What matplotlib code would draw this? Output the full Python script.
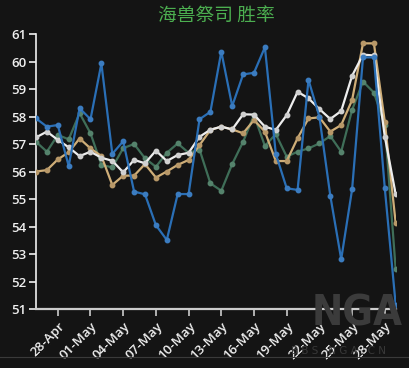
import matplotlib
matplotlib.use("Agg")
import matplotlib.pyplot as plt

dates = ["26-Apr", "27-Apr", "28-Apr", "29-Apr", "30-Apr"] + ["%02d-May" % d for d in range(1, 30)]
tick_labels = ["28-Apr", "01-May", "04-May", "07-May", "10-May", "13-May",
               "16-May", "19-May", "22-May", "25-May", "28-May"]

blue = [57.93, 57.63, 57.69, 56.2, 58.3, 57.9, 59.93, 56.64, 57.1, 55.27,
        55.17, 54.05, 53.51, 55.18, 55.18, 57.9, 58.17, 60.36, 58.38, 59.53,
        59.59, 60.52, 56.64, 55.39, 55.33, 59.33, 57.99, 55.12, 52.81, 55.35,
        60.15, 60.15, 55.39, 51.15]
white = [57.24, 57.45, 57.15, 56.88, 56.56, 56.72, 56.5, 56.39, 55.97, 56.42,
         56.3, 56.76, 56.38, 56.6, 56.68, 57.26, 57.52, 57.63, 57.53, 58.08,
         58.07, 57.63, 57.51, 58.05, 58.9, 58.66, 58.27, 57.91, 58.2, 59.48,
         60.25, 60.22, 57.27, 55.17]
tan = [56.0, 56.05, 56.44, 56.7, 57.2, 56.84, 56.56, 55.51, 55.85, 55.85,
       56.27, 55.78, 56.0, 56.24, 56.42, 56.96, 57.51, 57.63, 57.53, 57.39,
       57.87, 57.45, 56.38, 56.38, 57.21, 57.93, 57.97, 57.45, 57.69, 58.6,
       60.66, 60.66, 57.81, 54.12]
green = [57.08, 56.72, 57.33, 57.17, 58.12, 57.39, 56.24, 56.15, 56.85, 57.0,
         56.48, 56.17, 56.68, 57.02, 56.68, 56.8, 55.57, 55.3, 56.27, 57.08,
         58.05, 56.93, 57.36, 56.54, 56.72, 56.84, 57.02, 57.29, 56.72, 58.24,
         59.27, 58.87, 57.7, 52.44]

series = [
    (green, "#3f6e58", "#55836c"),
    (tan, "#cfae78", "#b89868"),
    (white, "#eeeeee", "#d0d0d0"),
    (blue, "#2a6fb6", "#3b7cc0"),
]

bg = "#141414"
fig = plt.figure(figsize=(4.10, 3.68), dpi=100, facecolor=bg)

# watermark (behind the axes)
fig.text(357 / 410, 1 - 313 / 368, "NGA", color="#3b3b3b", fontsize=30,
         fontweight="bold", fontstretch="condensed", ha="center", va="center",
         zorder=0, family="DejaVu Sans")
fig.text(339 / 410, 1 - 351 / 368, "B B S . N G A . C N", color="#383838", fontsize=7.5,
         ha="center", va="center", zorder=0)
fig.add_artist(plt.Line2D([0, 1], [1 - 357 / 368, 1 - 357 / 368],
                          color="#3a3a3a", lw=0.8, transform=fig.transFigure))

ax = fig.add_axes([36 / 410, 1 - 309 / 368, (395.7 - 36) / 410, (309 - 34) / 368])
ax.set_facecolor("none")

x = list(range(len(dates)))
for vals, lc, mc in series:
    ax.plot(x, vals, color=lc, lw=1.6, marker="o", ms=3.2,
            mfc=mc, mec=mc, solid_joinstyle="round", zorder=3)

ax.set_xlim(0, len(dates) - 1)
ax.set_ylim(51, 61)
ax.set_yticks(range(51, 62))
tick_pos = [dates.index(t) for t in tick_labels]
ax.set_xticks(tick_pos)
ax.set_xticklabels(tick_labels, rotation=45, ha="right", rotation_mode="anchor")

for s in ["top", "right"]:
    ax.spines[s].set_visible(False)
ax.spines["left"].set_color("#f0f0f0")
ax.spines["bottom"].set_color("#cccccc")
ax.spines["left"].set_linewidth(1.2)
ax.spines["bottom"].set_linewidth(1.6)
ax.tick_params(axis="y", colors="#f0f0f0", labelsize=9.5, length=5, width=1.2, pad=2)
ax.tick_params(axis="x", colors="#cccccc", labelcolor="#f0f0f0", labelsize=9.5,
               length=5, width=1.2, pad=3)
for lab in ax.get_xticklabels() + ax.get_yticklabels():
    lab.set_fontfamily(["Open Sans", "DejaVu Sans"])
    lab.set_fontweight("semibold")

fig.text(216 / 410, 1 - 15 / 368, "海兽祭司 胜率", color="#4caf50", fontsize=13.5,
         ha="center", va="center", family=["Noto Sans CJK SC", "DejaVu Sans"])

fig.savefig("out.png", dpi=100, facecolor=bg)
